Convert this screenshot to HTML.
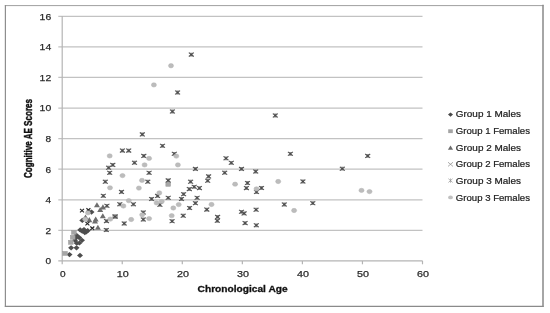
<!DOCTYPE html>
<html lang="en">
<head>
<meta charset="utf-8">
<title>Cognitive AE Scores by Chronological Age</title>
<style>
html,body{margin:0;padding:0;background:#fff;}
body{width:550px;height:313px;overflow:hidden;}
svg{display:block;}
text{font-family:"Liberation Sans",sans-serif;}
.tick text{font-size:9.3px;fill:#2a2a2a;stroke:#2a2a2a;stroke-width:0.25px;}
.leg text{font-size:8.6px;fill:#1c1c1c;stroke:#1c1c1c;stroke-width:0.2px;}
.ttl{font-weight:bold;fill:#111;}
</style>
</head>
<body>
<svg width="550" height="313" viewBox="0 0 550 313" style="filter:blur(0.4px)">
<defs>
<g id="st"><path d="M-2.3,-1.9H2.3L0,0L2.3,1.9H-2.3L0,0Z" fill="#8c8c8c"/><path d="M-2.5,-1.9L2.5,1.9M-2.5,1.9L2.5,-1.9" stroke="#555" stroke-width="1.05" fill="none"/><ellipse rx="1.1" ry="0.9" fill="#4a4a4a"/></g>
<ellipse id="ci" rx="2.55" ry="2.15" fill="#bcbcbc" stroke="#b0b0b0" stroke-width="0.5"/>
<rect id="sq" x="-2.35" y="-2" width="4.7" height="4" fill="#a6a6a6" stroke="#9a9a9a" stroke-width="0.5"/>
<path id="tr" d="M0,-2.7L3,2.4H-3Z" fill="#6e6e6e"/>
<path id="xx" d="M-2,-1.75L2,1.75M-2,1.75L2,-1.75" stroke="#262626" stroke-width="1.15" fill="none"/>
<path id="di" d="M0,-2.6L3,0L0,2.6L-3,0Z" fill="#4e4e4e"/>
</defs>
<rect x="0" y="0" width="550" height="313" fill="#fff"/>
<g fill="none" stroke-linecap="square">
<path d="M5.4,5.6 H543" stroke="#9a9a9a" stroke-width="0.95"/>
<path d="M5.4,5.6 V306.3" stroke="#8e8e8e" stroke-width="1.2"/>
<path d="M543,5.6 V306.3" stroke="#888" stroke-width="1.5"/>
<path d="M5.4,306.3 H543" stroke="#8a8a8a" stroke-width="1.15"/>
</g>

<g stroke="#c2c2c2" stroke-width="1.2" fill="none">
<path d="M58.3,230.37 H422.5"/>
<path d="M58.3,199.79 H422.5"/>
<path d="M58.3,169.21 H422.5"/>
<path d="M58.3,138.63 H422.5"/>
<path d="M58.3,108.05 H422.5"/>
<path d="M58.3,77.47 H422.5"/>
<path d="M58.3,46.89 H422.5"/>
<path d="M58.3,16.31 H422.5"/>
</g>
<g stroke="#b4b4b4" stroke-width="1.2" fill="none">
<path d="M62.2,16 V264.3"/>
<path d="M58.3,260.95 H422.6"/>
<path d="M122.25,260.95 V264.3"/>
<path d="M182.3,260.95 V264.3"/>
<path d="M242.35,260.95 V264.3"/>
<path d="M302.4,260.95 V264.3"/>
<path d="M362.45,260.95 V264.3"/>
<path d="M422.5,260.95 V264.3"/>
</g>
<g class="tick" text-anchor="end">
<text x="51.2" y="264.25" textLength="5.6" lengthAdjust="spacingAndGlyphs">0</text>
<text x="51.2" y="233.67" textLength="5.6" lengthAdjust="spacingAndGlyphs">2</text>
<text x="51.2" y="203.09" textLength="5.6" lengthAdjust="spacingAndGlyphs">4</text>
<text x="51.2" y="172.51" textLength="5.6" lengthAdjust="spacingAndGlyphs">6</text>
<text x="51.2" y="141.93" textLength="5.6" lengthAdjust="spacingAndGlyphs">8</text>
<text x="51.2" y="111.35" textLength="11.6" lengthAdjust="spacingAndGlyphs">10</text>
<text x="51.2" y="80.77" textLength="11.6" lengthAdjust="spacingAndGlyphs">12</text>
<text x="51.2" y="50.19" textLength="11.6" lengthAdjust="spacingAndGlyphs">14</text>
<text x="51.2" y="19.61" textLength="11.6" lengthAdjust="spacingAndGlyphs">16</text>
</g>
<g class="tick" text-anchor="middle">
<text x="62.8" y="276.9" textLength="5.6" lengthAdjust="spacingAndGlyphs">0</text>
<text x="122.85" y="276.9" textLength="12" lengthAdjust="spacingAndGlyphs">10</text>
<text x="182.9" y="276.9" textLength="12" lengthAdjust="spacingAndGlyphs">20</text>
<text x="242.95" y="276.9" textLength="12" lengthAdjust="spacingAndGlyphs">30</text>
<text x="303" y="276.9" textLength="12" lengthAdjust="spacingAndGlyphs">40</text>
<text x="363.05" y="276.9" textLength="12" lengthAdjust="spacingAndGlyphs">50</text>
<text x="423.1" y="276.9" textLength="12" lengthAdjust="spacingAndGlyphs">60</text>
</g>
<text class="ttl" x="242.6" y="291.7" font-size="9.4" stroke="#111" stroke-width="0.3" text-anchor="middle" textLength="90" lengthAdjust="spacingAndGlyphs">Chronological Age</text>
<text class="ttl" transform="translate(32.3,138.5) rotate(-90)" font-size="11.5" stroke="#111" stroke-width="0.45" text-anchor="middle" textLength="79" lengthAdjust="spacingAndGlyphs">Cognitive AE Scores</text>
<g>
<use href="#di" x="91.5" y="212.1"/>
<use href="#di" x="82.3" y="220.4"/>
<use href="#di" x="80.2" y="229.9"/>
<use href="#di" x="84" y="229.5"/>
<use href="#di" x="87.7" y="230.7"/>
<use href="#di" x="84.8" y="232.6"/>
<use href="#di" x="82.2" y="231.2"/>
<use href="#di" x="86.3" y="231.8"/>
<use href="#di" x="76.5" y="235.3"/>
<use href="#di" x="79.2" y="237.6"/>
<use href="#di" x="82" y="240.3"/>
<use href="#di" x="79.4" y="243"/>
<use href="#di" x="76.8" y="243.2"/>
<use href="#di" x="75" y="240.3"/>
<use href="#di" x="75.5" y="238"/>
<use href="#di" x="71.1" y="247.8"/>
<use href="#di" x="76.5" y="247.8"/>
<use href="#di" x="69.5" y="254.6"/>
<use href="#di" x="80" y="255.4"/>
</g>
<g>
<use href="#sq" x="115.2" y="216.5"/>
<use href="#sq" x="168.2" y="184.3"/>
<use href="#sq" x="73.9" y="232.3"/>
<use href="#sq" x="72.7" y="237.3"/>
<use href="#sq" x="70.8" y="242.3"/>
<use href="#sq" x="65" y="253.4"/>
</g>
<g>
<use href="#tr" x="96.95" y="204.9"/>
<use href="#tr" x="102.95" y="207"/>
<use href="#tr" x="100.2" y="209.6"/>
<use href="#tr" x="102.8" y="215.9"/>
<use href="#tr" x="85.5" y="217.2"/>
<use href="#tr" x="89.3" y="219.8"/>
<use href="#tr" x="95.7" y="219.2"/>
<use href="#tr" x="95" y="221.1"/>
<use href="#tr" x="97.9" y="227.4"/>
</g>
<g>
<use href="#xx" x="82" y="210.6"/>
<use href="#xx" x="88.4" y="210"/>
<use href="#xx" x="87.4" y="223.6"/>
<use href="#xx" x="92.3" y="228.3"/>
</g>
<g>
<use href="#st" x="191.3" y="54.6"/>
<use href="#st" x="177.6" y="92.5"/>
<use href="#st" x="172.4" y="111.5"/>
<use href="#st" x="142.3" y="134.4"/>
<use href="#st" x="162.5" y="145.8"/>
<use href="#st" x="122.4" y="150.6"/>
<use href="#st" x="128.7" y="150.6"/>
<use href="#st" x="143.8" y="155.9"/>
<use href="#st" x="174.3" y="153.8"/>
<use href="#st" x="134.5" y="162.7"/>
<use href="#st" x="112.8" y="164.9"/>
<use href="#st" x="108.6" y="167.7"/>
<use href="#st" x="109.7" y="172.8"/>
<use href="#st" x="105.3" y="181.7"/>
<use href="#st" x="121.5" y="191.9"/>
<use href="#st" x="103.3" y="195.8"/>
<use href="#st" x="195.4" y="168.9"/>
<use href="#st" x="149.1" y="172.8"/>
<use href="#st" x="147.8" y="181.7"/>
<use href="#st" x="168.2" y="180.4"/>
<use href="#st" x="190.6" y="181.7"/>
<use href="#st" x="194.2" y="186.8"/>
<use href="#st" x="189.3" y="189.1"/>
<use href="#st" x="183.6" y="194.2"/>
<use href="#st" x="157.6" y="195.9"/>
<use href="#st" x="151.6" y="199"/>
<use href="#st" x="168.2" y="197.8"/>
<use href="#st" x="181.5" y="199"/>
<use href="#st" x="197.1" y="197.8"/>
<use href="#st" x="133.4" y="204.3"/>
<use href="#st" x="159.9" y="204.8"/>
<use href="#st" x="195.4" y="203.2"/>
<use href="#st" x="189.6" y="208"/>
<use href="#st" x="143.3" y="212.5"/>
<use href="#st" x="183.2" y="215.7"/>
<use href="#st" x="143.3" y="219.5"/>
<use href="#st" x="172.1" y="221.2"/>
<use href="#st" x="119.8" y="204.3"/>
<use href="#st" x="106.9" y="205.8"/>
<use href="#st" x="106.5" y="221.1"/>
<use href="#st" x="124.2" y="223.5"/>
<use href="#st" x="106.3" y="230"/>
<use href="#st" x="275.3" y="115.5"/>
<use href="#st" x="290.4" y="153.8"/>
<use href="#st" x="367.7" y="155.9"/>
<use href="#st" x="226" y="158.3"/>
<use href="#st" x="231.3" y="162.8"/>
<use href="#st" x="241.5" y="168.9"/>
<use href="#st" x="342.3" y="168.7"/>
<use href="#st" x="255.7" y="171.5"/>
<use href="#st" x="224.7" y="172.7"/>
<use href="#st" x="208.6" y="176.4"/>
<use href="#st" x="207.7" y="180.7"/>
<use href="#st" x="247.5" y="183"/>
<use href="#st" x="199.4" y="188.1"/>
<use href="#st" x="246.4" y="188.1"/>
<use href="#st" x="261.5" y="188"/>
<use href="#st" x="256.5" y="192"/>
<use href="#st" x="302.9" y="181.5"/>
<use href="#st" x="206.8" y="209.6"/>
<use href="#st" x="256.1" y="209.7"/>
<use href="#st" x="241.5" y="211.8"/>
<use href="#st" x="244.1" y="213.4"/>
<use href="#st" x="217.6" y="216.9"/>
<use href="#st" x="217.3" y="220.8"/>
<use href="#st" x="245.1" y="223.1"/>
<use href="#st" x="256.3" y="225.3"/>
<use href="#st" x="284.3" y="204.5"/>
<use href="#st" x="312.8" y="203.2"/>
<use href="#st" x="115.1" y="216.6"/>
</g>
<g>
<use href="#ci" x="171" y="65.75"/>
<use href="#ci" x="153.9" y="84.9"/>
<use href="#ci" x="109.7" y="155.9"/>
<use href="#ci" x="149.1" y="158.4"/>
<use href="#ci" x="176.3" y="156.1"/>
<use href="#ci" x="144.6" y="164.9"/>
<use href="#ci" x="177.9" y="164.9"/>
<use href="#ci" x="122.5" y="175.6"/>
<use href="#ci" x="110" y="187.8"/>
<use href="#ci" x="142" y="180.4"/>
<use href="#ci" x="138.9" y="188.1"/>
<use href="#ci" x="159.3" y="192.9"/>
<use href="#ci" x="128.8" y="200.7"/>
<use href="#ci" x="156.6" y="202.9"/>
<use href="#ci" x="161.7" y="201.6"/>
<use href="#ci" x="178.7" y="204.6"/>
<use href="#ci" x="173.3" y="208"/>
<use href="#ci" x="142.2" y="214.8"/>
<use href="#ci" x="171.7" y="215.7"/>
<use href="#ci" x="131.2" y="219.5"/>
<use href="#ci" x="149.1" y="218.6"/>
<use href="#ci" x="123.4" y="206"/>
<use href="#ci" x="110.3" y="219.1"/>
<use href="#ci" x="88" y="212.8"/>
<use href="#ci" x="85.2" y="219.2"/>
<use href="#ci" x="235.1" y="184.2"/>
<use href="#ci" x="256.5" y="188.9"/>
<use href="#ci" x="211.5" y="204.5"/>
<use href="#ci" x="278.2" y="181.5"/>
<use href="#ci" x="361.5" y="190.4"/>
<use href="#ci" x="369.5" y="191.6"/>
<use href="#ci" x="294.1" y="210.5"/>
</g>
<g class="leg">
<g transform="translate(450.5,114.6)"><path d="M0,-2.1L2.5,0L0,2.1L-2.5,0Z" fill="#484848"/></g>
<text x="455.8" y="117.2" textLength="65.2" lengthAdjust="spacingAndGlyphs">Group 1 Males</text>
<g transform="translate(450.5,131.2)"><rect x="-2.3" y="-1.9" width="4.6" height="3.8" fill="#a4a4a4"/></g>
<text x="455.8" y="133.8" textLength="74.2" lengthAdjust="spacingAndGlyphs">Group 1 Females</text>
<g transform="translate(450.5,147.6)"><path d="M0,-2L2.6,2.2H-2.6Z" fill="#6a6a6a"/></g>
<text x="455.8" y="150.85" textLength="65.2" lengthAdjust="spacingAndGlyphs">Group 2 Males</text>
<g transform="translate(450.5,164.3)"><path d="M-2.5,-2.1L2.5,2.1M-2.5,2.1L2.5,-2.1" stroke="#8a8a8a" stroke-width="0.7" fill="none"/></g>
<text x="455.8" y="166.9" textLength="74.2" lengthAdjust="spacingAndGlyphs">Group 2 Females</text>
<g transform="translate(450.5,180.6)"><path d="M-2.1,-1.9L2.1,1.9M-2.1,1.9L2.1,-1.9M0,-2.1V2.1" stroke="#949494" stroke-width="0.7" fill="none"/></g>
<text x="455.8" y="183.85" textLength="65.2" lengthAdjust="spacingAndGlyphs">Group 3 Males</text>
<g transform="translate(450.5,197.4)"><ellipse rx="2.4" ry="1.9" fill="#c0c0c0"/></g>
<text x="455.8" y="200.5" textLength="74.2" lengthAdjust="spacingAndGlyphs">Group 3 Females</text>
</g>
</svg>
</body>
</html>
